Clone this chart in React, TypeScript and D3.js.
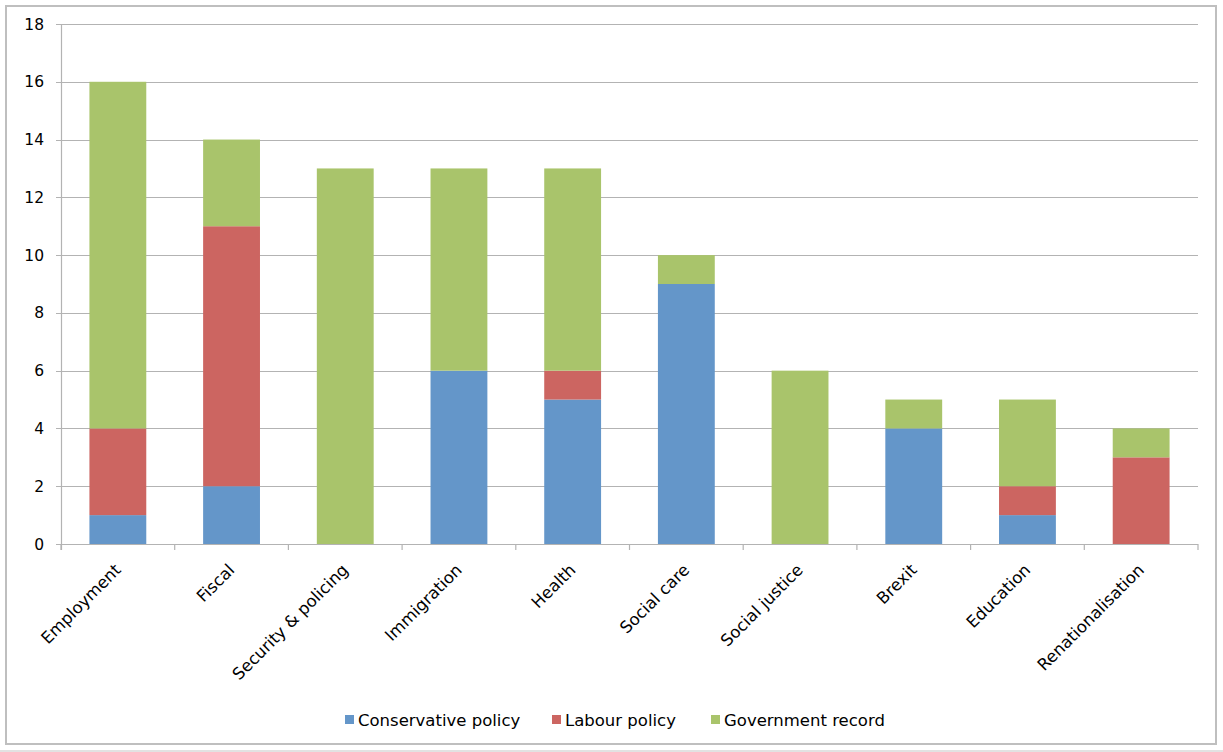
import { useRef, useEffect, RefObject } from 'react';
import * as d3 from 'd3';

const categories: string[] = [
  'Employment', 'Fiscal', 'Security & policing', 'Immigration', 'Health',
  'Social care', 'Social justice', 'Brexit', 'Education', 'Renationalisation',
];
const conservative: number[] = [1, 2, 0, 6, 5, 9, 0, 4, 1, 0];
const labour: number[] = [3, 9, 0, 0, 1, 0, 0, 0, 1, 3];
const government: number[] = [12, 3, 13, 7, 7, 1, 6, 1, 3, 1];
const seriesNames: string[] = ['Conservative policy', 'Labour policy', 'Government record'];
const seriesColors: string[] = ['#6496c9', '#cc6561', '#a9c46b'];
const yTicks: number[] = [0, 2, 4, 6, 8, 10, 12, 14, 16, 18];

const App = () => {
  const svgRef: RefObject<SVGSVGElement> = useRef(null);

  useEffect(() => {
    const width = 1223;
    const height = 752;
    const left = 61, right = 1198, top = 24, bottom = 544;
    const font = '"DejaVu Sans", Verdana, sans-serif';

    const svg = d3.select(svgRef.current)
      .attr('width', width)
      .attr('height', height)
      .style('display', 'block')
      .style('position', 'absolute')
      .style('left', '0px')
      .style('top', '0px')
      .style('font-family', font);
    svg.selectAll('*').remove();

    svg.append('rect').attr('width', width).attr('height', height).attr('fill', '#fff');
    // chart frame
    svg.append('rect')
      .attr('x', 6).attr('y', 6).attr('width', 1210).attr('height', 738)
      .attr('fill', 'none').attr('stroke', '#bfbfbf').attr('stroke-width', 2);
    svg.append('line')
      .attr('x1', 0).attr('x2', width).attr('y1', 751).attr('y2', 751)
      .attr('stroke', '#d9d9d9').attr('stroke-width', 1.5);

    const table = categories.map((c, i) => ({
      category: c, con: conservative[i], lab: labour[i], gov: government[i],
    }));
    const stacked = d3.stack<any>().keys(['con', 'lab', 'gov'])(table);

    const x = d3.scaleBand().domain(categories).range([left, right]).paddingInner(0.5).paddingOuter(0.25);
    const y = d3.scaleLinear().domain([0, 18]).range([bottom, top]);
    const step = x.step();

    // gridlines
    svg.append('g')
      .selectAll('line')
      .data(yTicks)
      .join('line')
      .attr('x1', left - 5).attr('x2', right)
      .attr('y1', (d) => Math.round(y(d)) + 0.5).attr('y2', (d) => Math.round(y(d)) + 0.5)
      .attr('stroke', '#b3b3b3').attr('stroke-width', 1.2);

    svg.append('g')
      .selectAll('text')
      .data(yTicks)
      .join('text')
      .attr('x', 44).attr('y', (d) => y(d))
      .attr('dy', '0.36em')
      .attr('text-anchor', 'end')
      .attr('font-size', 15.5)
      .attr('fill', '#000')
      .text((d) => d);

    // bars
    svg.append('g')
      .selectAll('g')
      .data(stacked)
      .join('g')
      .attr('fill', (_, i) => seriesColors[i])
      .selectAll('rect')
      .data((s) => s)
      .join('rect')
      .attr('x', (d: any) => x(d.data.category)!)
      .attr('width', x.bandwidth())
      .attr('y', (d) => y(d[1]))
      .attr('height', (d) => y(d[0]) - y(d[1]));

    // axes lines
    svg.append('line')
      .attr('x1', left + 0.5).attr('x2', left + 0.5).attr('y1', top).attr('y2', bottom + 6)
      .attr('stroke', '#b3b3b3').attr('stroke-width', 1.2);
    svg.append('line')
      .attr('x1', left).attr('x2', right).attr('y1', bottom + 0.5).attr('y2', bottom + 0.5)
      .attr('stroke', '#b3b3b3').attr('stroke-width', 1.2);
    svg.append('g')
      .selectAll('line')
      .data(d3.range(categories.length + 1))
      .join('line')
      .attr('x1', (i) => left + i * step).attr('x2', (i) => left + i * step)
      .attr('y1', bottom).attr('y2', bottom + 6)
      .attr('stroke', '#b3b3b3').attr('stroke-width', 1.2);

    // category labels
    svg.append('g')
      .selectAll('text')
      .data(categories)
      .join('text')
      .attr('transform', (d) => `translate(${x(d)! + x.bandwidth() / 2 + 4},${bottom + 27}) rotate(-45)`)
      .attr('text-anchor', 'end')
      .attr('font-size', 16.5)
      .attr('fill', '#000')
      .text((d) => d);

    // legend
    const legendX = [345, 552, 711];
    const legend = svg.append('g')
      .selectAll('g')
      .data(seriesNames)
      .join('g')
      .attr('transform', (_, i) => `translate(${legendX[i]},720)`);
    legend.append('rect')
      .attr('x', 0).attr('y', -5).attr('width', 9).attr('height', 9)
      .attr('fill', (_, i) => seriesColors[i]);
    legend.append('text')
      .attr('x', 13).attr('dy', '0.36em')
      .attr('font-size', 16.5)
      .attr('fill', '#000')
      .text((d) => d);
  }, []);

  return <svg ref={svgRef}></svg>;
};

export default App;
